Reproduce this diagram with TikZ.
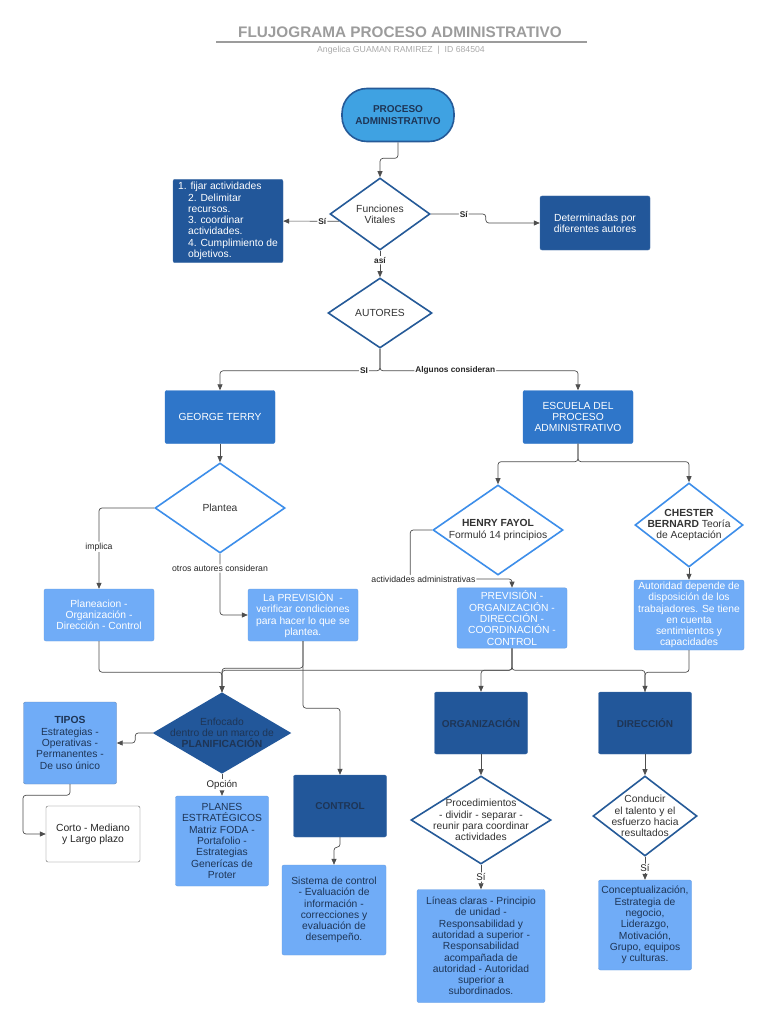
\documentclass[tikz,border=0pt]{standalone}
\usepackage{fontspec}
\setmainfont{Liberation Sans}
\usepackage{xcolor}
\usetikzlibrary{shapes.geometric,positioning,arrows.meta}
\definecolor{navy}{HTML}{22579A}
\definecolor{midblue}{HTML}{2F76C9}
\definecolor{lightblue}{HTML}{70ACF7}
\definecolor{skyblue}{HTML}{3FA2E2}
\definecolor{brightline}{HTML}{3D8EEA}
\definecolor{darkline}{HTML}{255A98}
\definecolor{inktext}{HTML}{1E3556}
\definecolor{wire}{HTML}{4E4E4E}
\definecolor{titlegray}{HTML}{9C9C9C}
\tikzset{rec/.style={rectangle,rounded corners=2pt,align=center,inner sep=3pt,font=\fontsize{10.3}{11.3}\selectfont}}
\tikzset{wh/.style 2 args={minimum width=#1pt,minimum height=#2pt}}
\tikzset{dark/.style={rec,fill=navy,draw=navy!85!white,text=white}}
\tikzset{mid/.style={rec,fill=midblue,draw=midblue,text=white}}
\tikzset{light/.style={rec,fill=lightblue,draw=lightblue!92!black,text=white}}
\tikzset{dia/.style={diamond,draw=darkline,fill=white,line width=1.6pt,inner sep=0pt}}
\tikzset{dwh/.style 2 args={minimum width=#1pt,minimum height=#2pt}}
\tikzset{txt/.style={align=center,font=\fontsize{10.3}{11.3}\selectfont,text=black!80}}
\tikzset{lbl/.style={fill=white,inner sep=1pt,font=\fontsize{8.7}{10}\selectfont,text=black!85}}
\tikzset{lblb/.style={lbl,font=\bfseries\fontsize{8.3}{10}\selectfont}}
\tikzset{wire/.style={draw=wire,line width=0.7pt,rounded corners=3pt}}

\begin{document}
\begin{tikzpicture}[x=1pt,y=-1pt,>={Triangle[length=6pt,width=5pt]}]
        \useasboundingbox[fill=white] (0,0) rectangle (768,1024);

        % title
        \node[font=\bfseries\fontsize{15.3}{17}\selectfont,text=titlegray] (title) at (400,32) {FLUJOGRAMA PROCESO ADMINISTRATIVO};
        \draw[titlegray,line width=1.4pt] (216,42) -- (587,42);
        \node[font=\fontsize{8.7}{9}\selectfont,text=titlegray!85] (author) at (401,50) {Angelica GUAMAN RAMIREZ \ | \ ID 684504};

        % nodes
        \node[rectangle,rounded corners=25pt,fill=skyblue,draw=darkline,line width=1.6pt,wh={112}{53},align=center,font=\bfseries\fontsize{10}{11.3}\selectfont,text=inktext] (proc) at (398,115) {PROCESO\\ADMINISTRATIVO};
        \node[dia,dwh={100}{72}] (fv) at (380,214) {};
        \node[txt] (fvt) at (fv) {Funciones\\Vitales};
        \node[dark,wh={110}{82},align=left] (fijar) at (228,221) {1. fijar actividades\\\hspace*{10pt}2. Delimitar\\\hspace*{10pt}recursos.\\\hspace*{10pt}3. coordinar\\\hspace*{10pt}actividades.\\\hspace*{10pt}4. Cumplimiento de\\\hspace*{10pt}objetivos.};
        \node[dark,wh={110}{54}] (determ) at (595,223) {Determinadas por\\diferentes autores};
        \node[dia,dwh={104}{70}] (aut) at (380,313) {};
        \node[txt] (autt) at (aut) {AUTORES};
        \node[mid,wh={110}{53}] (terry) at (220,417) {GEORGE TERRY};
        \node[mid,wh={110}{53}] (escuela) at (578,417) {ESCUELA DEL\\PROCESO\\ADMINISTRATIVO};
        \node[dia,draw=brightline,dwh={130}{90}] (plantea) at (220,508) {};
        \node[txt] (plantt) at (plantea) {Plantea};
        \node[light,wh={110}{52}] (fases) at (99,615) {Planeacion -\\Organización -\\Dirección - Control};
        \node[light,wh={110}{52}] (prevision) at (303,615) {La PREVISIÒN~ -\\verificar condiciones\\para hacer lo que se\\plantea.};
        \node[dia,draw=brightline,dwh={130}{90}] (fayol) at (498,530) {};
        \node[txt] (fayolt) at (fayol) {\textbf{HENRY FAYOL}\\Formuló 14 principios};
        \node[dia,draw=brightline,dwh={108}{84}] (chester) at (689,525) {};
        \node[txt] (chestert) at (chester) {\textbf{CHESTER}\\\textbf{BERNARD} Teoría\\de Aceptación};
        \node[light,wh={110}{60}] (principios) at (512,618) {PREVISIÓN -\\ORGANIZACIÓN -\\DIRECCIÓN -\\COORDINACIÓN -\\CONTROL};
        \node[light,wh={110}{70},inner sep=1pt] (autoridad) at (689,615) {Autoridad depende de\\disposición de los\\trabajadores. Se tiene\\en cuenta\\sentimientos y\\capacidades};

        \node[dia,fill=navy,draw=navy,dwh={136}{80}] (enfocado) at (222,733) {};
        \node[txt,text=inktext] (enft) at (enfocado) {Enfocado\\dentro de un marco de\\\textbf{PLANIFICACIÓN}};
        \node[light,wh={93}{82},text=inktext,draw=navy!70] (tipos) at (70,743) {\textbf{TIPOS}\\Estrategias -\\Operativas -\\Permanentes -\\De uso único};
        \node[rec,wh={94}{56},fill=white,draw=black!60,text=black!85] (plazo) at (93,834) {Corto - Mediano\\y Largo plazo};
        \node[light,wh={93}{90},text=inktext] (planes) at (222,841) {PLANES\\ESTRATÉGICOS\\Matriz FODA -\\Portafolio -\\Estrategias\\Generícas de\\Proter};
        \node[dark,wh={93}{62},text=inktext,font=\bfseries\fontsize{10}{11}\selectfont] (control) at (340,806) {CONTROL};
        \node[light,wh={104}{90},text=inktext] (sistema) at (334,910) {Sistema de control\\- Evaluación de\\información -\\correcciones y\\evaluación de\\desempeño.};
        \node[dark,wh={93}{62},text=inktext,font=\bfseries\fontsize{10}{11}\selectfont] (organiz) at (481,723) {ORGANIZACIÓN};
        \node[dark,wh={93}{62},text=inktext,font=\bfseries\fontsize{10}{11}\selectfont] (direc) at (645,723) {DIRECCIÓN};
        \node[dia,dwh={140}{88}] (proced) at (481,820) {};
        \node[txt] (procedt) at (proced) {Procedimientos\\- dividir - separar -\\reunir para coordinar\\actividades};
        \node[dia,dwh={104}{80}] (conducir) at (645,816) {};
        \node[txt] (conducirt) at (conducir) {Conducir\\el talento y el\\esfuerzo hacia\\resultados};
        \node[light,wh={128}{113},text=inktext] (lineas) at (481,946) {Líneas claras - Principio\\de unidad -\\Responsabilidad y\\autoridad a superior -\\Responsabilidad\\acompañada de\\autoridad - Autoridad\\superior a\\subordinados.};
        \node[light,wh={93}{90},text=inktext,inner sep=1pt] (concep) at (645,925) {Conceptualización,\\Estrategia de\\negocio,\\Liderazgo,\\Motivación,\\Grupo, equipos\\y culturas.};

        % connectors
        \draw[wire,->] (proc.south) -- ++(0,16) -| (fv.north);
        \draw[wire,->] (fv.190) -- node[lblb,pos=0.3]{Sí} (fijar);
        \draw[wire,->] (fv.east) -- node[lblb,pos=0.6]{Sí} ++(55,0) |- (determ.west);
        \draw[wire,->] (fv.south) -- node[lblb,pos=0.36]{así} (aut.north);
        \draw[wire,->] (aut.south) -- ++(0,22) -| node[lblb,pos=0.05]{SI} (terry.north);
        \draw[wire,->] (aut.south) -- ++(0,22) -| node[lblb,pos=0.19]{Algunos consideran} (escuela.north);
        \draw[wire,->] (terry.south) -- (plantea.north);
        \draw[wire,->] (escuela.south) -- ++(0,18) -| (fayol.north);
        \draw[wire,->] (escuela.south) -- ++(0,18) -| (chester.north);
        \draw[wire,->] (plantea.west) -| node[lbl,pos=0.74]{implica} (fases.north);
        \draw[wire,->] (plantea.south) |- node[lbl,pos=0.12]{otros autores consideran} (prevision.west);
        \draw[wire,->] (fayol.west) -- ++(-22,0) -- ++(0,49) -| node[lbl,pos=0.065]{actividades administrativas} (principios.north);
        \draw[wire,->] (chester.south) -- (autoridad.north);
        \draw[wire,->] (fases.south) -- ++(0,31) -| (enfocado.north);
        \draw[wire] (prevision.south) -- ++(0,27) -| (enfocado.north);
        \draw[wire,->] (prevision.south) -- ++(0,67) -| (control.north);
        \draw[wire,->] (principios.south) -- ++(0,22) -| (enfocado.north);
        \draw[wire,->] (principios.south) -- ++(0,22) -| (organiz.north);
        \draw[wire,->] (principios.south) -- ++(0,22) -| (direc.north);
        \draw[wire] (autoridad.south) -- ++(0,22) -| (direc.north);
        \draw[wire,->] (enfocado.west) -- ++(-18,0) |- (tipos.east);
        \draw[wire,->] (enfocado.south) -- node[lbl,font=\fontsize{9.7}{11}\selectfont]{Opción} (planes.north);
        \draw[wire,->] (tipos.south) -- ++(0,11) -- ++(-47,0) |- (plazo.west);
        \draw[wire,->] (control.south) -- ++(0,10) -| (sistema.north);
        \draw[wire,->] (organiz.south) -- (proced.north);
        \draw[wire,->] (direc.south) -- (conducir.north);
        \draw[wire,->] (proced.south) -- node[lbl,font=\fontsize{9.7}{11}\selectfont]{Sí} (lineas.north);
        \draw[wire,->] (conducir.south) -- node[lbl,font=\fontsize{9.7}{11}\selectfont]{Sí} (concep.north);
    \end{tikzpicture}
\end{document}
